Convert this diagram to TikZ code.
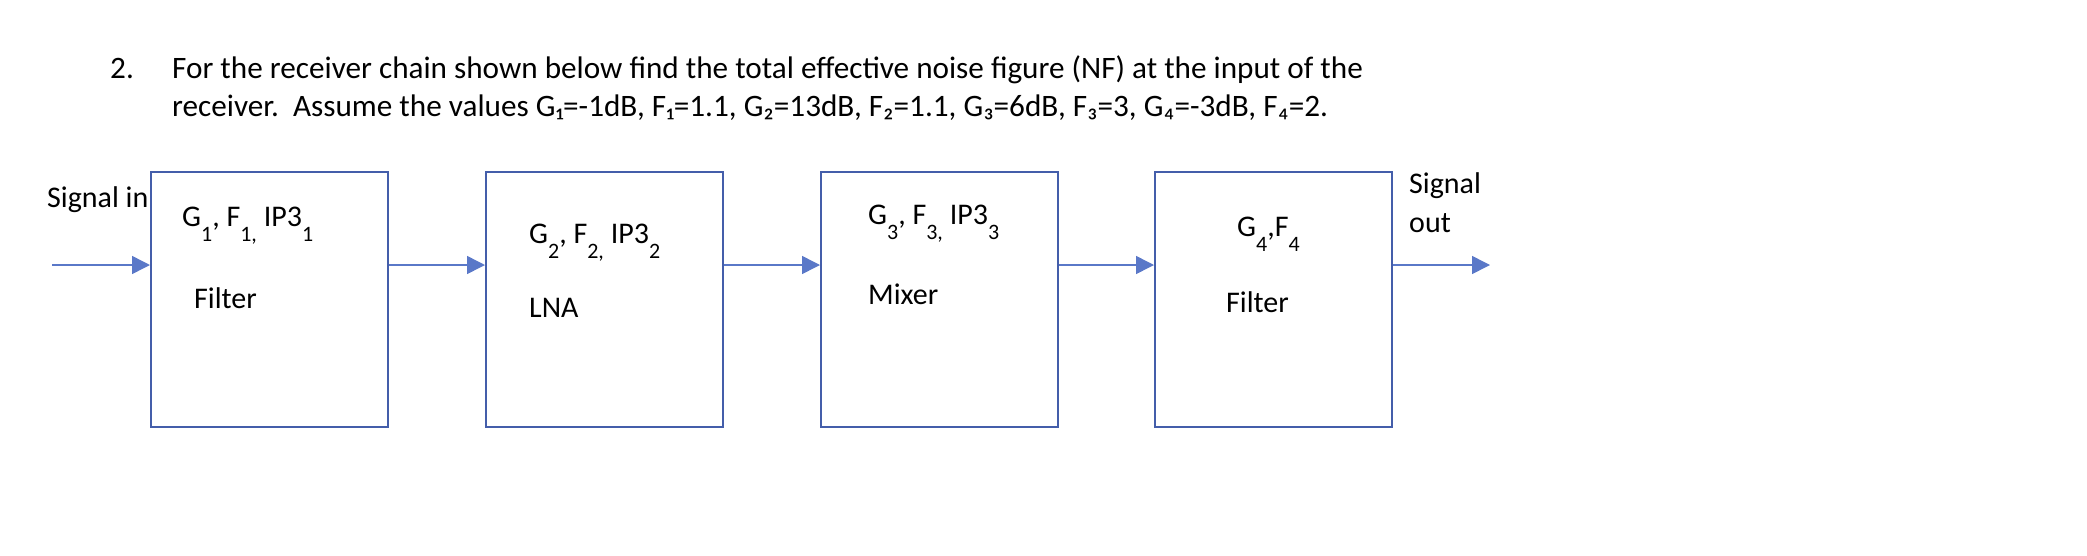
\documentclass[tikz,border=0pt]{standalone}
\usepackage{fontspec}
\setmainfont{Carlito}
\usetikzlibrary{arrows.meta}
\definecolor{bl}{RGB}{68,94,170}
\definecolor{ar}{RGB}{90,120,200}
\newcommand{\lsub}[1]{\raisebox{-0.5em}{\fontsize{22}{22}\selectfont #1}}
\tikzset{
 blk/.style={draw=bl,line width=2.2pt,minimum width=237pt,minimum height=255pt,inner sep=0,anchor=north west},
 lab/.style={anchor=base west,inner sep=0,font=\fontsize{30}{36}\selectfont},
 ttl/.style={anchor=base west,inner sep=0,font=\fontsize{31.2}{36}\selectfont},
 con/.style={draw=ar,line width=1.5pt,-{Triangle[length=18pt,width=18pt]}}
}
\begin{document}
\begin{tikzpicture}[x=1pt,y=-1pt]
\useasboundingbox (0,0) rectangle (2087,555);
\node[ttl] (num) at (110,78) {2.};
\node[ttl] (t1) at (172,78) {For the receiver chain shown below find the total effective noise figure (NF) at the input of the};
\node[ttl] (t2) at (172,116) {receiver.\ \ Assume the values G₁=-1dB, F₁=1.1, G₂=13dB, F₂=1.1, G₃=6dB, F₃=3, G₄=-3dB, F₄=2.};
\node[blk] (b1) at (150,171) {};
\node[blk] (b2) at (485,171) {};
\node[blk] (b3) at (820,171) {};
\node[blk] (b4) at (1154,171) {};
\node[lab] (g1) at (182,226) {G\lsub{1}, F\lsub{1,} IP3\lsub{1}};
\node[lab] (n1) at (194,308) {Filter};
\node[lab] (g2) at (529,243) {G\lsub{2}, F\lsub{2,} IP3\lsub{2}};
\node[lab] (n2) at (529,317) {LNA};
\node[lab] (g3) at (868,224) {G\lsub{3}, F\lsub{3,} IP3\lsub{3}};
\node[lab] (n3) at (868,304) {Mixer};
\node[lab] (g4) at (1237,236) {G\lsub{4},F\lsub{4}};
\node[lab] (n4) at (1226,312) {Filter};
\node[lab] (si) at (47,207) {Signal in};
\node[lab] (so1) at (1409,193) {Signal};
\node[lab] (so2) at (1409,232) {out};
\coordinate (in) at (52,265);
\coordinate (out) at (1490,265);
\draw[con] (in) -- (in -| b1.west);
\draw[con] (b1.east |- in) -- (b2.west |- in);
\draw[con] (b2.east |- in) -- (b3.west |- in);
\draw[con] (b3.east |- in) -- (b4.west |- in);
\draw[con] (b4.east |- in) -- (out);
\end{tikzpicture}
\end{document}
